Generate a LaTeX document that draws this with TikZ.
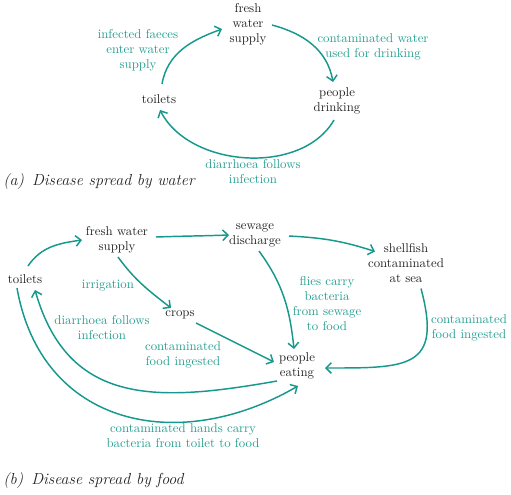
\documentclass[tikz,border=0pt]{standalone}
\usepackage{fontspec}
\usetikzlibrary{arrows.meta,calc}
\definecolor{arr}{RGB}{22,152,140}
\definecolor{lab}{RGB}{38,158,144}
\definecolor{txt}{RGB}{35,35,35}
\begin{document}
\begin{tikzpicture}[x=0.75pt,y=-0.75pt,
  item/.style={align=center,inner sep=0pt,text=txt,font=\rmfamily\fontsize{9.6}{11.25}\selectfont},
  lbl/.style={align=center,inner sep=0pt,text=lab,font=\rmfamily\fontsize{9.6}{11.25}\selectfont},
  capt/.style={anchor=west,inner sep=0pt,text=txt,font=\rmfamily\fontsize{12}{14}\selectfont\itshape},
  conn/.style={draw=arr,line width=1.1pt,-{Straight Barb[length=4pt,width=8pt,line width=1.1pt]}}]
\useasboundingbox (0,0) rectangle (511,494);
% ---- (a)
\node[item] (fw) at (248,24) {fresh\\water\\supply};
\node[item] (toiA) at (159,99) {toilets};
\node[item] (pd) at (337,101) {people\\drinking};
\node[lbl] (la1) at (138,50) {infected faeces\\enter water\\supply};
\node[lbl] (la2) at (373,47) {contaminated water\\used for drinking};
\node[lbl] (la3) at (253,171.5) {diarrhoea follows\\infection};
\node[capt] (ca) at (3,182) {(a)\hspace{0.5em}Disease spread by water};
\draw[conn] ($(toiA)+(3,-15)$) to[out=80,in=200] ($(fw)+(-26,5)$);
\draw[conn] ($(fw)+(24,1)$) to[out=-15,in=100] ($(pd)+(-4,-19)$);
\draw[conn] ($(pd)+(-3,19)$) to[out=-120,in=-63,looseness=0.95] ($(toiA)+(1,11)$);
% ---- (b)
\node[item] (fw2) at (117,239.5) {fresh water\\supply};
\node[item] (sew) at (255,235.5) {sewage\\discharge};
\node[item] (shell) at (406,263.5) {shellfish\\contaminated\\at sea};
\node[item] (toiB) at (25,279) {toilets};
\node[item] (crops) at (180,315) {crops};
\node[item] (pe) at (297,366) {people\\eating};
\node[lbl] (lb1) at (108,286) {irrigation};
\node[lbl] (lb2) at (102,327.5) {diarrhoea follows\\infection};
\node[lbl] (lb3) at (183,354.5) {contaminated\\food ingested};
\node[lbl] (lb4) at (327,303.5) {flies carry\\bacteria\\from sewage\\to food};
\node[lbl] (lb5) at (469,328) {contaminated\\food ingested};
\node[lbl] (lb6) at (183,436) {contaminated hands carry\\bacteria from toilet to food};
\node[capt] (cb) at (3,480) {(b)\hspace{0.5em}Disease spread by food};
\draw[conn] ($(toiB)+(3,-13)$) to[out=56,in=188] ($(fw2)+(-35,0.5)$);
\draw[conn] ($(fw2)+(39,-2.5)$) to[out=2,in=182] ($(sew)+(-26,-0.5)$);
\draw[conn] ($(sew)+(34,0.5)$) to[out=-3,in=162] ($(shell)+(-31,-12)$);
\draw[conn] ($(fw2)+(1,17.5)$) to[out=-54,in=142] ($(crops)+(-9,-7)$);
\draw[conn] ($(crops)+(16,8)$) -- ($(pe)+(-23,-4)$);
\draw[conn] ($(sew)+(4,15.5)$) to[out=-54,in=96] ($(pe)+(-3,-17)$);
\draw[conn] ($(shell)+(15,25)$) to[out=-75,in=0,looseness=1.7] ($(pe)+(28,2)$);
\draw[conn] ($(pe)+(-20,15)$) to[out=190,in=-74,looseness=1.2] ($(toiB)+(10,11)$);
\draw[conn] ($(toiB)+(-8,9)$) to[out=-80,in=210,looseness=1.2] ($(pe)+(1,20)$);
\end{tikzpicture}
\end{document}
